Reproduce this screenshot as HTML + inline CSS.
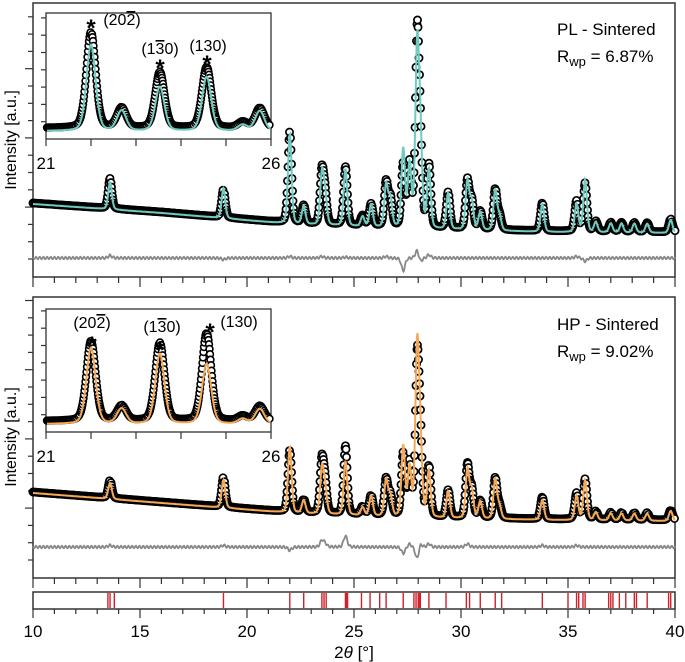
<!DOCTYPE html>
<html><head><meta charset="utf-8"><style>
body{margin:0;background:#fff}
svg{display:block;font-family:"Liberation Sans",sans-serif}
</style></head><body>
<svg id="c" width="685" height="662" viewBox="0 0 685 662"></svg>
<script>
// ---- data ----
const peakPos = [13.6,18.9,22.0,22.65,23.5,23.65,24.6,25.4,25.8,26.5,26.7,27.3,27.6,27.95,28.1,28.5,29.4,30.3,30.5,30.9,31.6,31.8,33.8,35.4,35.8,36.3,37.0,37.5,38.1,38.7,39.8];
const plObs = [30,28,92,18,52,28,58,10,22,44,28,62,62,185,80,62,36,48,28,18,40,14,28,30,48,10,9,9,9,9,13];
const plFit = [27,30,90,18,50,28,57,10,22,42,28,78,62,175,85,58,36,48,28,18,40,14,28,28,52,10,9,9,9,9,13];
const hpObs = [18,30,62,13,52,28,68,8,20,36,20,62,52,150,75,50,27,52,28,17,40,12,22,26,40,8,7,7,7,7,10];
const hpFit = [16,28,66,13,44,24,54,8,20,36,20,70,48,165,70,46,27,48,28,17,40,12,20,24,40,8,7,7,7,7,10];
const bgT = [10,16,22,28,34,40];
const plBg = [203,212,223,228,231,232];
const hpBg = [492,502,512,517,519,520];
const insPos = [22.0,22.68,23.53,24.57,25.37,25.75];
const plInsObs = [96,20,56,61,6,20];
const plInsFit = [86,20,44,54,6,20];
const hpInsObs = [80,15,78,88,5,15];
const hpInsFit = [76,15,70,60,5,15];
const hklTicks = [13.5,13.6,13.8,18.9,22.0,22.65,23.5,23.6,23.7,24.6,24.65,24.7,25.35,25.75,26.2,26.5,27.3,27.8,27.9,28.0,28.05,28.1,28.5,29.3,30.25,30.4,30.9,31.6,31.9,33.8,35.0,35.4,35.5,35.7,35.8,36.9,37.0,37.1,37.4,37.7,38.1,38.2,38.7,39.7,39.8];
const xTicks = [10,15,20,25,30,35,40];

// ---- helpers ----
const NS="http://www.w3.org/2000/svg", svg=document.getElementById('c');
function el(t,a,p){const e=document.createElementNS(NS,t);for(const k in a)e.setAttribute(k,a[k]);(p||svg).appendChild(e);return e;}
const X0=33,X1=675;
const xs=t=>X0+(t-10)*(X1-X0)/30;
function interp(xa,ya,t){for(let i=0;i<xa.length-1;i++){if(t<=xa[i+1]){const f=(t-xa[i])/(xa[i+1]-xa[i]);return ya[i]+f*(ya[i+1]-ya[i]);}}return ya[ya.length-1];}
function prof(pos,h,t,w){let s=0;for(let i=0;i<pos.length;i++){const d=(t-pos[i])/w;s+=h[i]*(0.75*Math.exp(-d*d*0.693)+0.25/(1+d*d));}return s;}

function frame(y0,y1,name){
  const g=el('g',{});  
  el('rect',{x:X0,y:y0,width:X1-X0,height:y1-y0,fill:'none',stroke:'#333','stroke-width':1.5},g);
  for(let t=10;t<=40;t++){const x=xs(t);el('line',{x1:x,x2:x,y1:y1,y2:y1+(t%5?6:10),stroke:'#333','stroke-width':1.2},g);}
  return g;
}
function yticks(y0,y1){for(let y=y1-18,i=0;y>y0;y-=17.3,i++){el('line',{x1:X0-(i%4==3?8:5),x2:X0,y1:y,y2:y,stroke:'#333','stroke-width':1.2});}}

function panel(obs,fit,bg,color,name){
  const g=el('g',{});  
  let dFit='',dRes='',circ=[];
  const W=0.1;
  for(let x=X0;x<=X1;x+=0.5){
    const t=10+(x-X0)*30/(X1-X0), b=interp(bgT,bg,t);
    const o=prof(peakPos,obs,t,W), f=prof(peakPos,fit,t,W);
    dFit+=(dFit?'L':'M')+x.toFixed(1)+','+(b-f+1).toFixed(1);
    const rb=(name=='pl'?258:547);
    dRes+=(dRes?'L':'M')+x.toFixed(1)+','+(rb-(o-f)*0.8+Math.sin(x*1.7)*1.2).toFixed(1);
    circ.push([x,b-o]);
  }
  let last=null;
  const cg=el('g',{fill:'#fff',stroke:'#000','stroke-width':1.7},g);  
  for(const p of circ){if(!last||Math.hypot(p[0]-last[0],p[1]-last[1])>1.3){el('circle',{cx:p[0].toFixed(1),cy:p[1].toFixed(1),r:3.6},cg);last=p;}}
  const fl=el('path',{d:dFit,fill:'none',stroke:color,'stroke-width':2},g);  
  const rl=el('path',{d:dRes,fill:'none',stroke:'#888','stroke-width':1.8},g);  
}
function inset(y0,y1,base,obs,fit,color,name,labels){
  const g=el('g',{});  
  const ix0=46,ix1=271;
  el('rect',{x:ix0,y:y0,width:ix1-ix0,height:y1-y0,fill:'#fff',stroke:'#333','stroke-width':1.3},g);
  let last=null,dF='';const pts=[];
  for(let x=ix0+1;x<ix1;x+=0.5){const t=21+(x-ix0)*5/(ix1-ix0);pts.push([x,base-prof(insPos,obs,t,0.12)]);dF+=(dF?'L':'M')+x.toFixed(1)+','+(base+3-prof(insPos,fit,t,0.12)).toFixed(1);}
  const cg=el('g',{fill:'#fff',stroke:'#000','stroke-width':1.6},g);
  for(const p of pts){if(!last||Math.hypot(p[0]-last[0],p[1]-last[1])>1.4){el('circle',{cx:p[0].toFixed(1),cy:p[1].toFixed(1),r:3.4},cg);last=p;}}
  el('path',{d:dF,fill:'none',stroke:color,'stroke-width':2},g);
  for(let t=21;t<=26;t++){const x=ix0+(t-21)*(ix1-ix0)/5;el('line',{x1:x,x2:x,y1:y1,y2:y1+7,stroke:'#333','stroke-width':1.2},g);}
  for(let y=y1-17.3;y>y0;y-=17.3){el('line',{x1:ix0,x2:ix0-5,y1:y,y2:y,stroke:'#333','stroke-width':1.2},g);}
  const a=el('text',{x:ix0,y:y1+30,'font-size':17,'text-anchor':'middle'},g);a.textContent='21';
  const b=el('text',{x:ix1,y:y1+30,'font-size':17,'text-anchor':'middle'},g);b.textContent='26';
  for(const L of labels){const s=el('text',{x:L[0],y:L[1],'font-size':24,'font-weight':'bold','text-anchor':'middle'},g);s.textContent='*';
    const t=el('text',{x:L[2],y:L[3],'font-size':16,'text-anchor':'middle'},g);t.innerHTML=L[4];}
}

// ---- build ----
frame(3,277,'top-panel'); yticks(3,277);
frame(297,578,'bottom-panel'); yticks(297,578);
panel(plObs,plFit,plBg,'#6fcabf','pl');
panel(hpObs,hpFit,hpBg,'#f5a855','hp');
const ov='<tspan text-decoration="overline">';
inset(13,139,128,plInsObs,plInsFit,'#6fcabf','pl',[[91,36,122,25,'(20'+ov+'2</tspan>)'],[160,76,160,54,'(1'+ov+'3</tspan>0)'],[207,72,208,51,'(130)']]);
inset(309,432,421,hpInsObs,hpInsFit,'#f5a855','hp',[[92,353,92,328,'(20'+ov+'2</tspan>)'],[160,358,162,332,'(1'+ov+'3</tspan>0)'],[210,340,239,327,'(130)']]);

// tick strip
const sg=el('g',{});  
el('rect',{x:X0,y:592,width:X1-X0,height:17,fill:'#fff',stroke:'#333','stroke-width':1.5},sg);
for(const t of hklTicks){el('line',{x1:xs(t),x2:xs(t),y1:593,y2:608,stroke:'#d0202a','stroke-width':1.4},sg);}
for(let t=10;t<=40;t++){const x=xs(t);el('line',{x1:x,x2:x,y1:609,y2:609+(t%5?5:9),stroke:'#333','stroke-width':1.2});}
for(const t of xTicks){const e=el('text',{x:xs(t),y:637,'font-size':17,'text-anchor':'middle'});e.textContent=t;
  
  }
const xt=el('text',{x:354,y:658,'font-size':17,'text-anchor':'middle'});xt.innerHTML='2<tspan font-style="italic">θ</tspan> [°]';


for(const [y,n] of [[140,'top-y-axis-title'],[437,'bottom-y-axis-title']]){const e=el('text',{x:0,y:0,'font-size':16,'text-anchor':'middle',transform:`translate(16,${y}) rotate(-90)`});e.textContent='Intensity [a.u.]';
  
  }
for(const [y,a,r] of [[35,'PL - Sintered','6.87%'],[330,'HP - Sintered','9.02%']]){
  const e=el('text',{x:557,y:y,'font-size':17});e.textContent=a;
  
  
  const f=el('text',{x:557,y:y+27,'font-size':17});f.innerHTML='R<tspan font-size="13" dy="4">wp</tspan><tspan dy="-4"> = '+r+'</tspan>';
  
  }
</script>
</body></html>
